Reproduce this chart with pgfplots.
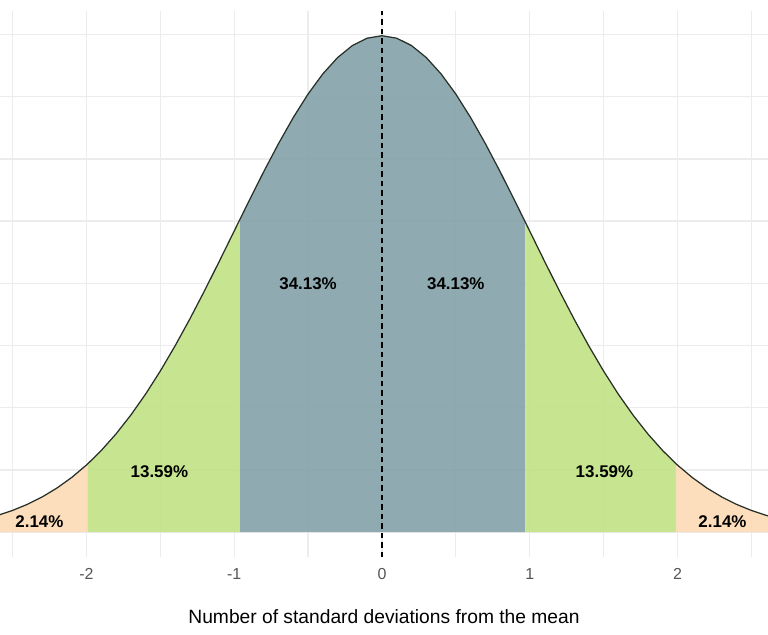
\documentclass[border=0pt]{standalone}
\usepackage{fontspec}
\setmainfont{Liberation Sans}
\usepackage{pgfplots}
\usepackage{pgfplotstable}
\pgfplotsset{compat=1.18}
\definecolor{tailpeach}{RGB}{252,219,182}
\definecolor{midgreen}{RGB}{194,227,135}
\definecolor{coreblue}{RGB}{133,164,170}
\definecolor{curveline}{RGB}{40,48,40}
\definecolor{gridgray}{RGB}{236,236,236}
\definecolor{ticktext}{RGB}{85,85,85}

% standard normal density
\pgfplotstableread{
x y
-2.7 0.01042
-2.6 0.01358
-2.5 0.01753
-2.4 0.02239
-2.3 0.02833
-2.2 0.03547
-2.1 0.04398
-2.0 0.05399
-1.99 0.05508
-1.9 0.06562
-1.8 0.07895
-1.7 0.09405
-1.6 0.11092
-1.5 0.12952
-1.4 0.14973
-1.3 0.17137
-1.2 0.19419
-1.1 0.21785
-1.0 0.24197
-0.96 0.25164
-0.9 0.26609
-0.8 0.28969
-0.7 0.31225
-0.6 0.33322
-0.5 0.35207
-0.4 0.36827
-0.3 0.38139
-0.2 0.39104
-0.1 0.39695
0.0 0.39894
0.1 0.39695
0.2 0.39104
0.3 0.38139
0.4 0.36827
0.5 0.35207
0.6 0.33322
0.7 0.31225
0.8 0.28969
0.9 0.26609
0.97 0.24923
1.0 0.24197
1.1 0.21785
1.2 0.19419
1.3 0.17137
1.4 0.14973
1.5 0.12952
1.6 0.11092
1.7 0.09405
1.8 0.07895
1.9 0.06562
1.99 0.05508
2.0 0.05399
2.1 0.04398
2.2 0.03547
2.3 0.02833
2.4 0.02239
2.5 0.01753
2.6 0.01358
2.7 0.01042
}\curve

\begin{document}
\begin{tikzpicture}
\begin{axis}[
    scale only axis,
    width=768bp,
    height=546bp,
    xmin=-2.585, xmax=2.613,
    ymin=-0.0199, ymax=0.4188,
    axis line style={draw=none},
    major tick length=0,
    minor tick length=0,
    xtick={-2,-1,0,1,2},
    xticklabels={-2,-1,0,1,2},
    minor xtick={-2.5,-1.5,-0.5,0.5,1.5,2.5},
    ytick={0,0.05,0.1,0.15,0.2,0.25,0.3,0.35,0.4},
    yticklabels={},
    yticklabel style={inner sep=0pt},
    xticklabel style={font=\fontsize{16}{16}\selectfont, text=ticktext, yshift=-8bp},
    grid=both,
    major grid style={gridgray, line width=1.3bp},
    minor grid style={gridgray, line width=1.3bp},
    xlabel={Number of standard deviations from the mean},
    xlabel style={font=\fontsize{19.3}{19.3}\selectfont, yshift=-23bp},
]
\addplot[fill=tailpeach, fill opacity=0.92, draw=none, restrict x to domain=-3:-1.985] table {\curve} \closedcycle;
\addplot[fill=midgreen, fill opacity=0.92, draw=none, restrict x to domain=-1.995:-0.955] table {\curve} \closedcycle;
\addplot[fill=coreblue, fill opacity=0.92, draw=none, restrict x to domain=-0.965:0.975] table {\curve} \closedcycle;
\addplot[fill=midgreen, fill opacity=0.92, draw=none, restrict x to domain=0.965:1.995] table {\curve} \closedcycle;
\addplot[fill=tailpeach, fill opacity=0.92, draw=none, restrict x to domain=1.985:3] table {\curve} \closedcycle;

\addplot[curveline, line width=1.25bp] table {\curve};
\addplot[black, line width=1.4bp, dash pattern=on 5.5bp off 4bp] coordinates {(0,-0.0199) (0,0.4188)};

\begin{scope}[every node/.style={font=\bfseries\fontsize{17}{17}\selectfont}]
\node at (axis cs:-0.5,0.2) {34.13\%};
\node at (axis cs:0.5,0.2) {34.13\%};
\node at (axis cs:-1.506,0.049) {13.59\%};
\node at (axis cs:1.506,0.049) {13.59\%};
\node at (axis cs:-2.318,0.0088) {2.14\%};
\node at (axis cs:2.305,0.0088) {2.14\%};
\end{scope}

\coordinate (sw) at (rel axis cs:0,0);
\coordinate (ne) at (rel axis cs:1,1);
\end{axis}
\pgfresetboundingbox
\path ([yshift=-78bp]sw) rectangle ([yshift=11bp]ne);
\end{tikzpicture}
\end{document}
